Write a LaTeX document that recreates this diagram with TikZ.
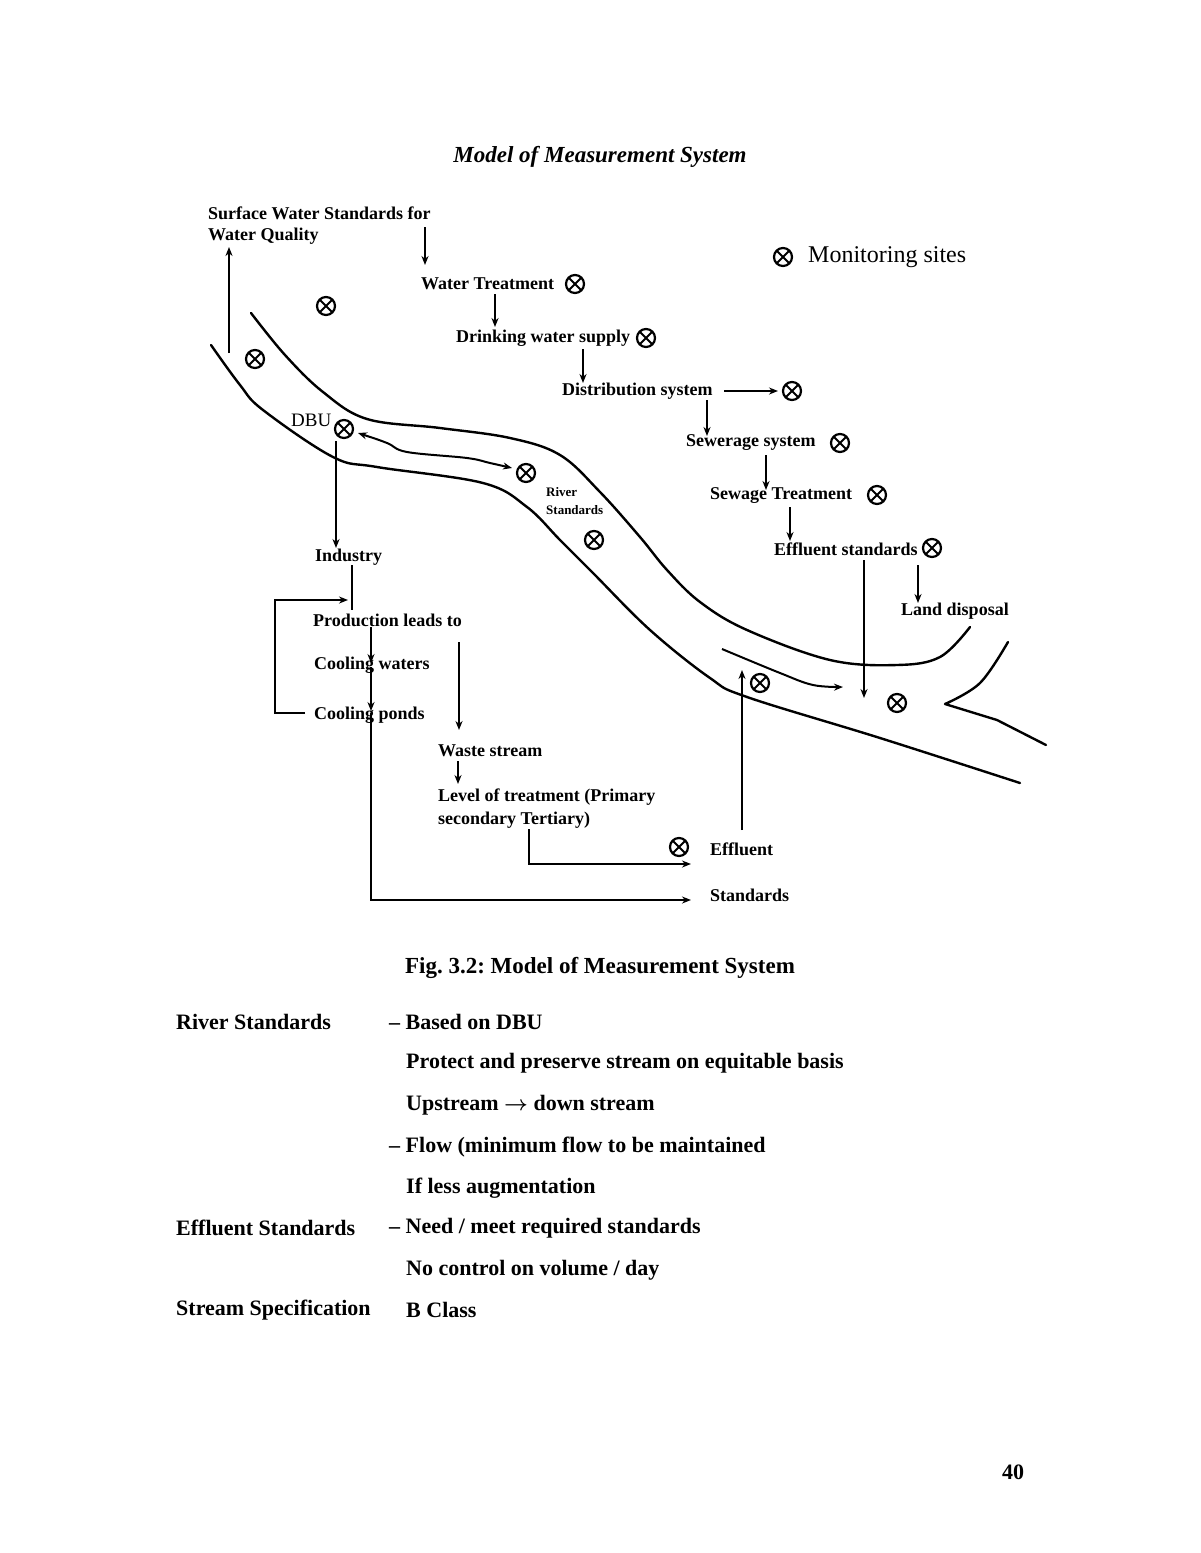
\documentclass[tikz,border=0pt]{standalone}
\usepackage{fontspec}
\setmainfont{Liberation Serif}
\usetikzlibrary{arrows.meta}
\frenchspacing
\begin{document}
\begin{tikzpicture}[x=1pt,y=-1pt,
 lbl/.style={font=\fontsize{18}{20}\selectfont\bfseries, anchor=west, inner sep=0pt},
 txt/.style={font=\fontsize{22}{24}\selectfont\bfseries, anchor=west, inner sep=0pt},
 mon/.style={circle, draw, line width=2.2pt, minimum size=18pt, inner sep=0pt,
   path picture={\draw[line width=2pt] (path picture bounding box.north west) -- (path picture bounding box.south east)
     (path picture bounding box.north east) -- (path picture bounding box.south west);}},
 bank/.style={line width=2.4pt, line cap=round, line join=round},
 arr/.style={line width=2pt, -{Stealth[length=9pt,width=7pt]}},
 plain/.style={line width=2pt},
]
\fill[white] (0,0) rectangle (1200,1553);
\useasboundingbox (0,0) rectangle (1200,1553);

% title
\node[font=\fontsize{23}{25}\selectfont\bfseries\itshape, inner sep=0pt] (title) at (600,157) {Model of Measurement System};

% legend
\node[mon] (leg) at (783,257) {};
\node[font=\fontsize{24}{26}\selectfont, anchor=west, inner sep=0pt] (legt) at (808,257) {Monitoring sites};

% river banks
\draw[bank] plot[smooth, tension=0.6] coordinates {(251,313) (285,355) (323,392) (367,419) (440,428) (510,438) (560,455) (600,492) (640,537) (667,570) (700,602) (747,630) (830,660) (897,665) (940,657) (970,627)};
\draw[bank] plot[smooth, tension=0.6] coordinates {(211,345) (240,385) (263,410) (333,457) (377,467) (483,483) (527,507) (560,540) (593,573) (650,630) (710,678) (747,697) (880,738) (1020,783)};
\draw[bank] plot[smooth, tension=0.6] coordinates {(1008,642) (980,683) (945,704)} -- (997,720) -- (1046,745);

% flow arrows in river
\draw[line width=2pt, {Stealth[length=9pt,width=7pt]}-{Stealth[length=9pt,width=7pt]}] plot[smooth, tension=0.6] coordinates {(358,433) (387,443) (407,452) (467,458) (490,463) (512,468)};
\draw[arr] plot[smooth, tension=0.6] coordinates {(722,649) (780,673) (813,685) (843,687)};

% monitoring sites
\node[mon] (m1) at (575,284) {};
\node[mon] (m2) at (326,306) {};
\node[mon] (m3) at (255,359) {};
\node[mon] (m4) at (646,338) {};
\node[mon] (m5) at (792,391) {};
\node[mon] (m6) at (840,443) {};
\node[mon] (m7) at (877,495) {};
\node[mon] (m8) at (932,548) {};
\node[mon] (m9) at (344,429) {};
\node[mon] (m10) at (526,473) {};
\node[mon] (m11) at (594,540) {};
\node[mon] (m12) at (760,683) {};
\node[mon] (m13) at (897,703) {};
\node[mon] (m14) at (679,847) {};

% labels
\node[lbl] (sws) at (208,213) {Surface Water Standards for};
\node[lbl] (wq) at (208,236) {Water Quality};
\node[lbl] (wt) at (421,284) {Water Treatment};
\node[lbl] (dws) at (456,338) {Drinking water supply};
\node[lbl] (ds) at (562,391) {Distribution system};
\node[lbl] (ss) at (686,443) {Sewerage system};
\node[lbl] (st) at (710,496) {Sewage Treatment};
\node[lbl] (es) at (774,549) {Effluent standards};
\node[lbl] (ld) at (901,611) {Land disposal};
\node[font=\fontsize{19}{21}\selectfont, anchor=west, inner sep=0pt] (dbu) at (291,420) {DBU};
\node[font=\fontsize{13}{14}\selectfont\bfseries, anchor=west, inner sep=0pt] (rs1) at (546,492) {River};
\node[font=\fontsize{13}{14}\selectfont\bfseries, anchor=west, inner sep=0pt] (rs2) at (546,510) {Standards};
\node[lbl] (ind) at (315,557) {Industry};
\node[lbl] (prod) at (313,620) {Production leads to};
\node[lbl] (cw) at (314,665) {Cooling waters};
\node[lbl] (cp) at (314,715) {Cooling ponds};
\node[lbl] (ws) at (438,751) {Waste stream};
\node[lbl] (lot1) at (438,797) {Level of treatment (Primary};
\node[lbl] (lot2) at (438,820) {secondary Tertiary)};
\node[lbl] (eff) at (710,849) {Effluent};
\node[lbl] (std) at (710,895) {Standards};

% connectors (coordinates)
\coordinate (a1) at (229,353); \coordinate (a1e) at (229,247);
\coordinate (a2) at (425,227); \coordinate (a2e) at (425,265);
\coordinate (a3) at (495,294); \coordinate (a3e) at (495,327);
\coordinate (a4) at (583,349); \coordinate (a4e) at (583,383);
\coordinate (a5) at (724,391); \coordinate (a5e) at (778,391);
\coordinate (a6) at (707,400); \coordinate (a6e) at (707,436);
\coordinate (a7) at (766,455); \coordinate (a7e) at (766,490);
\coordinate (a8) at (790,507); \coordinate (a8e) at (790,541);
\coordinate (a9) at (918,565); \coordinate (a9e) at (918,603);
\coordinate (a10) at (864,560); \coordinate (a10e) at (864,698);
\coordinate (a11) at (336,441); \coordinate (a11e) at (336,548);
\coordinate (a12) at (352,565); \coordinate (a12e) at (352,610);
\coordinate (b1) at (305,713); \coordinate (b2) at (275,713); \coordinate (b3) at (275,600); \coordinate (b4) at (348,600);
\coordinate (c1) at (371,627); \coordinate (c1e) at (371,663);
\coordinate (c2) at (371,667); \coordinate (c2e) at (371,711);
\coordinate (c3) at (371,713); \coordinate (c4) at (371,900); \coordinate (c5) at (691,900);
\coordinate (d1) at (459,642); \coordinate (d1e) at (459,730);
\coordinate (d2) at (458,761); \coordinate (d2e) at (458,784);
\coordinate (e1) at (529,829); \coordinate (e2) at (529,864); \coordinate (e3) at (691,864);
\coordinate (f1) at (742,830); \coordinate (f1e) at (742,670);

\draw[arr] (a1) -- (a1e);
\draw[arr] (a2) -- (a2e);
\draw[arr] (a3) -- (a3e);
\draw[arr] (a4) -- (a4e);
\draw[arr, line width=2.8pt] (a5) -- (a5e);
\draw[arr] (a6) -- (a6e);
\draw[arr] (a7) -- (a7e);
\draw[arr] (a8) -- (a8e);
\draw[arr] (a9) -- (a9e);
\draw[arr, line width=2.4pt] (a10) -- (a10e);
\draw[arr] (a11) -- (a11e);
\draw[plain] (a12) -- (a12e);
\draw[arr, line width=2.6pt] (b1) -- (b2) -- (b3) -- (b4);
\draw[arr] (c1) -- (c1e);
\draw[arr] (c2) -- (c2e);
\draw[arr, line width=2.4pt] (c3) -- (c4) -- (c5);
\draw[arr] (d1) -- (d1e);
\draw[arr] (d2) -- (d2e);
\draw[arr] (e1) -- (e2) -- (e3);
\draw[arr] (f1) -- (f1e);

% caption
\node[font=\fontsize{23}{25}\selectfont\bfseries, inner sep=0pt] (cap) at (600,968) {Fig. 3.2: Model of Measurement System};

% lower text
\node[txt] (r1a) at (176,1022) {River Standards};
\node[txt] (r1b) at (389,1022) {– Based on DBU};
\node[txt] (r2) at (406,1063) {Protect and preserve stream on equitable basis};
\node[txt] (r3) at (406,1105) {Upstream {\boldmath$\rightarrow$} down stream};
\node[txt] (r4) at (389,1147) {– Flow (minimum flow to be maintained};
\node[txt] (r5) at (406,1188) {If less augmentation};
\node[txt] (r6a) at (176,1228) {Effluent Standards};
\node[txt] (r6b) at (389,1228) {– Need / meet required standards};
\node[txt] (r7) at (406,1270) {No control on volume / day};
\node[txt] (r8a) at (176,1310) {Stream Specification};
\node[txt] (r8b) at (406,1310) {B Class};

\node[font=\fontsize{22}{24}\selectfont\bfseries, inner sep=0pt] (pg) at (1013,1472) {40};
\end{tikzpicture}
\end{document}
